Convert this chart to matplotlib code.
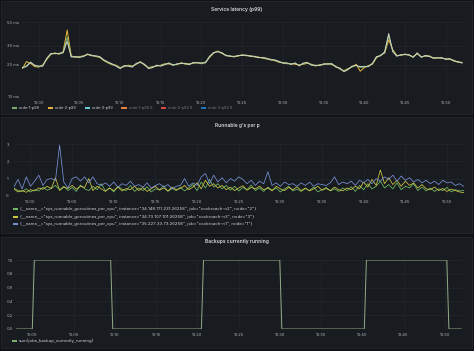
import numpy as np
import matplotlib
matplotlib.use("Agg")
import matplotlib.pyplot as plt
from matplotlib.lines import Line2D
from matplotlib.patches import Rectangle

W, H = 474, 351

# x axis: minutes after 13:00, samples every 30 s from 12:58
sample_minutes = np.arange(-2.0, 52.01, 0.5)
x_ticks = [0, 5, 10, 15, 20, 25, 30, 35, 40, 45, 50]
x_tick_labels = ["13:00", "13:05", "13:10", "13:15", "13:20", "13:25",
                 "13:30", "13:35", "13:40", "13:45", "13:50"]

# --- Service latency (p99), ms
lat_node1 = [18.6, 19.6, 21.2, 19.6, 19.2, 19.6, 22.8, 25.3, 25.5, 25.3,
             26.0, 36.0, 23.8, 23.6, 23.6, 24.0, 25.0, 24.4, 24.0, 23.6,
             22.0, 21.0, 20.2, 19.6, 18.6, 19.4, 19.6, 19.2, 20.4, 21.2,
             20.0, 18.6, 19.0, 19.6, 19.6, 20.2, 20.6, 19.9, 20.2, 20.7,
             20.4, 20.2, 20.8, 20.9, 20.6, 21.0, 23.8, 25.8, 26.6, 25.7,
             24.4, 24.0, 23.8, 24.2, 24.6, 24.4, 24.1, 23.8, 23.4, 23.2,
             22.8, 22.3, 22.0, 21.3, 20.8, 20.6, 20.3, 20.6, 19.7, 20.5,
             20.8, 20.0, 19.6, 19.8, 20.2, 20.4, 20.3, 19.2, 18.4, 17.4,
             18.2, 19.2, 19.8, 18.9, 19.0, 19.4, 20.4, 23.6, 24.4, 26.0,
             37.0, 27.0, 24.2, 24.6, 25.0, 24.6, 23.6, 25.5, 23.6, 24.2,
             24.0, 23.0, 23.2, 23.1, 22.6, 22.6, 21.8, 21.2, 20.9]
lat_node2 = [18.4, 21.4, 20.6, 19.2, 19.0, 19.9, 22.4, 25.0, 25.8, 25.0,
             26.4, 42.0, 24.2, 23.4, 23.8, 24.2, 24.8, 24.6, 23.8, 23.4,
             21.8, 20.8, 20.0, 19.8, 18.8, 19.2, 19.8, 19.4, 20.2, 21.4,
             19.8, 18.8, 19.2, 19.4, 19.8, 20.4, 20.3, 20.1, 20.0, 20.9,
             20.2, 20.4, 20.6, 21.1, 20.4, 21.2, 23.4, 25.6, 26.8, 25.4,
             24.6, 23.8, 24.0, 24.0, 24.8, 24.2, 24.3, 23.6, 23.6, 23.0,
             22.6, 22.5, 21.8, 21.1, 21.0, 20.4, 20.5, 20.2, 19.9, 20.2,
             20.6, 20.2, 19.4, 20.0, 20.0, 20.6, 20.0, 19.4, 18.2, 17.6,
             18.4, 19.0, 20.2, 17.4, 18.8, 19.6, 20.2, 23.2, 24.6, 25.6,
             34.0, 27.6, 24.4, 24.4, 25.2, 24.4, 23.8, 25.2, 23.8, 24.0,
             24.2, 22.8, 23.4, 22.9, 22.8, 22.4, 22.0, 21.0, 21.1]
lat_node3 = [18.8, 19.2, 21.0, 19.8, 19.4, 19.4, 23.0, 25.4, 25.3, 25.5,
             25.8, 33.0, 23.6, 23.8, 23.4, 23.8, 25.2, 24.2, 24.2, 23.8,
             22.2, 21.2, 20.4, 19.4, 18.4, 19.6, 19.4, 19.0, 20.6, 21.0,
             20.2, 18.4, 18.8, 19.8, 19.4, 20.0, 20.8, 19.7, 20.4, 20.5,
             20.6, 20.0, 21.0, 20.7, 20.8, 20.8, 24.0, 26.0, 26.4, 25.9,
             24.2, 24.2, 23.6, 24.4, 24.4, 24.6, 23.9, 24.0, 23.2, 23.4,
             23.0, 22.1, 22.2, 21.5, 20.6, 20.8, 20.1, 20.8, 19.5, 20.7,
             21.0, 19.8, 19.8, 19.6, 20.4, 20.2, 20.5, 19.0, 18.6, 17.2,
             18.0, 19.4, 19.6, 19.2, 19.2, 19.2, 20.6, 23.8, 24.2, 26.4,
             39.0, 26.4, 24.0, 24.8, 24.8, 24.8, 23.4, 25.8, 23.4, 24.4,
             23.8, 23.2, 23.0, 23.3, 22.4, 22.8, 21.6, 21.4, 20.7]
lat_labels = ["node-1-p99", "node-2-p99", "node-3-p99",
              "node-1-p99.9", "node-2-p99.9", "node-3-p99.9"]
lat_yticks = [10, 20, 30, 50]
lat_ytick_labels = ["10 ms", "20 ms", "30 ms", "50 ms"]

# --- Runnable g's per p
run_n2 = [0.45, 0.30, 0.25, 0.40, 0.22, 0.35, 0.28, 0.50, 0.32, 0.42,
          0.60, 0.35, 0.55, 0.30, 0.48, 0.25, 0.62, 0.40, 0.30, 0.55,
          0.35, 0.70, 0.28, 0.45, 0.22, 0.55, 0.38, 0.30, 0.60, 0.25,
          0.45, 0.30, 0.52, 0.22, 0.40, 0.35, 0.58, 0.25, 0.42, 0.30,
          0.50, 0.28, 0.45, 0.65, 0.30, 0.80, 0.45, 0.95, 0.50, 0.70,
          0.40, 0.60, 0.32, 0.55, 0.28, 0.48, 0.35, 0.62, 0.30, 0.45,
          0.25, 0.50, 0.32, 0.45, 0.22, 0.40, 0.55, 0.28, 0.38, 0.25,
          0.42, 0.30, 0.50, 0.22, 0.35, 0.48, 0.28, 0.40, 0.25, 0.45,
          0.30, 0.52, 0.25, 0.60, 0.35, 0.70, 0.40, 0.55, 0.85, 0.45,
          0.65, 0.40, 0.75, 0.35, 0.55, 0.45, 0.70, 0.30, 0.50, 0.28,
          0.45, 0.25, 0.40, 0.30, 0.48, 0.22, 0.35, 0.28, 0.30]
run_n3 = [0.40, 0.22, 0.30, 0.20, 0.35, 0.28, 0.45, 0.38, 0.55, 0.42,
          1.05, 0.30, 0.50, 0.42, 0.60, 0.38, 0.55, 0.48, 1.00, 0.30,
          0.55, 0.40, 0.25, 0.45, 0.30, 0.50, 0.28, 0.42, 0.35, 0.55,
          0.30, 0.48, 0.25, 0.40, 0.55, 0.32, 0.45, 0.28, 0.50, 0.35,
          0.42, 0.60, 0.35, 0.50, 0.75, 0.40, 0.90, 0.55, 0.70, 0.45,
          0.60, 0.35, 0.50, 0.30, 0.45, 0.58, 0.32, 0.48, 0.40, 0.55,
          0.35, 0.45, 0.28, 0.55, 0.40, 0.30, 0.48, 0.35, 0.52, 0.30,
          0.45, 0.28, 0.40, 0.55, 0.32, 0.42, 0.30, 0.50, 0.35, 0.28,
          0.45, 0.35, 0.55, 0.40, 0.80, 0.50, 0.95, 0.60, 1.50, 0.70,
          1.05, 0.65, 0.90, 0.55, 0.85, 0.60, 0.75, 0.45, 0.65, 0.40,
          0.35, 0.50, 0.30, 0.42, 0.25, 0.38, 0.30, 0.22, 0.18]
run_n1 = [0.50, 0.95, 0.40, 1.10, 0.55, 0.85, 1.20, 0.60, 0.95, 1.00,
          0.90, 2.95, 0.80, 0.45, 1.00, 1.10, 0.85, 1.10, 0.75, 1.10,
          0.70, 0.60, 0.75, 0.55, 0.80, 0.50, 0.70, 0.60, 0.85, 0.55,
          0.65, 0.50, 0.75, 0.45, 0.60, 0.70, 0.50, 0.65, 0.40, 0.55,
          0.60, 1.00, 0.55, 0.75, 0.60, 1.10, 1.30, 0.70, 1.20, 0.80,
          1.05, 0.75, 1.00, 0.85, 1.10, 0.95, 0.70, 0.90, 0.60, 0.85,
          0.70, 1.40, 0.60, 0.75, 0.55, 0.80, 0.65, 0.70, 0.55, 0.75,
          0.60, 0.80, 0.55, 0.70, 0.65, 0.60, 0.75, 1.10, 0.65, 0.80,
          0.70, 0.85, 0.60, 0.90, 0.75, 0.95, 0.70, 1.00, 0.85, 1.10,
          0.95, 1.20, 0.85, 1.15, 0.90, 1.05, 0.80, 0.95, 0.75, 0.90,
          0.70, 0.85, 0.65, 0.90, 0.75, 0.80, 0.60, 0.70, 0.55]
run_labels = [
    '{__name__="sys_runnable_goroutines_per_cpu", instance="34.148.171.231:26258", job="cockroach-n2", node="2"}',
    '{__name__="sys_runnable_goroutines_per_cpu", instance="34.73.107.101:26258", job="cockroach-n3", node="3"}',
    '{__name__="sys_runnable_goroutines_per_cpu", instance="35.227.33.73:26258", job="cockroach-n1", node="1"}',
]
run_yticks = [0, 1, 2, 3]

# --- Backups currently running
backup_minutes = [-2.0, 0.0, 0.25, 9.5, 9.75, 20.5, 20.75, 30.0, 30.25,
                  40.25, 40.5, 50.25, 50.5, 52.0]
backup_values = [0, 0, 1, 1, 0, 0, 1, 1, 0, 0, 1, 1, 0, 0]
backup_label = "sum(jobs_backup_currently_running)"
backup_yticks = [0.0, 0.2, 0.4, 0.6, 0.8, 1.0]

GREEN, YELLOW, CYAN = "#7EB26D", "#EAB839", "#6ED0E0"
ORANGE, RED, BLUE = "#EF843C", "#E24D42", "#1F78C1"
RUN_COLORS = ["#73BF69", "#D2CB44", "#7993D8"]
TEXT = "#d8d9e0"
TICK = "#b4b6bc"
GRID = "#23262b"

plt.rcParams["font.family"] = ["Inter", "DejaVu Sans"]

fig = plt.figure(figsize=(W / 100, H / 100), dpi=100, facecolor="#111217")


def fx(x):
    return x / W


def fy(y):
    return 1 - y / H


# panel backgrounds (behind the axes)
for top, bottom in [(1, 114), (117, 233), (237, 348)]:
    fig.add_artist(Rectangle((fx(1), fy(bottom)), fx(471), (bottom - top) / H,
                             transform=fig.transFigure, facecolor="#181b1f",
                             edgecolor="#24272d", linewidth=0.6, zorder=-5))


def panel_axes(left, top, right, bottom):
    ax = fig.add_axes([fx(left), fy(bottom), (right - left) / W, (bottom - top) / H])
    ax.set_facecolor("none")
    for s in ax.spines.values():
        s.set_visible(False)
    ax.set_xlim(-2, 52.15)
    ax.set_xticks(x_ticks)
    ax.set_xticklabels(x_tick_labels)
    ax.tick_params(length=0, labelsize=2.9, colors=TICK)
    ax.tick_params(axis="x", pad=2.8)
    ax.grid(True, color=GRID, linewidth=0.5)
    ax.set_axisbelow(True)
    return ax


def title(y, s):
    fig.text(fx(237), fy(y), s, ha="center", va="center", fontsize=3.5,
             color=TEXT, fontweight="semibold")


def legend_row(x, y, labels, colors, text_colors, size=2.7, gap=8):
    r = fig.canvas.get_renderer()
    for lab, c, tc in zip(labels, colors, text_colors):
        fig.add_artist(Line2D([fx(x), fx(x + 5)], [fy(y), fy(y)],
                              transform=fig.transFigure, color=c, linewidth=1.4,
                              solid_capstyle="butt"))
        t = fig.text(fx(x + 7), fy(y), lab, ha="left", va="center",
                     fontsize=size, color=tc)
        x = t.get_window_extent(renderer=r).x1 + gap


# Panel 1: Service latency (p99)
ax1 = panel_axes(22.4, 22, 463.2, 97)
ax1.set_yscale("log")
ax1.set_ylim(10, 50)
ax1.plot(sample_minutes, lat_node2, color=YELLOW, linewidth=0.7)
ax1.plot(sample_minutes, lat_node1, color=GREEN, linewidth=0.7)
ax1.plot(sample_minutes, lat_node3, color="#cdd5c6", linewidth=0.7)
ax1.set_yticks(lat_yticks)
ax1.set_yticklabels(lat_ytick_labels)
ax1.yaxis.set_minor_locator(matplotlib.ticker.NullLocator())
ax1.tick_params(axis="y", pad=2.2)
title(10, "Service latency (p99)")
legend_row(12, 108.3, lat_labels, [GREEN, YELLOW, CYAN, ORANGE, RED, BLUE],
           [TEXT] * 3 + ["#7d7f85"] * 3)

# Panel 2: Runnable g's per p
ax2 = panel_axes(13.8, 144.3, 464.9, 195.7)
ax2.set_ylim(0, 3)
for vals, c in zip([run_n2, run_n3, run_n1], RUN_COLORS):
    ax2.plot(sample_minutes, vals, color=c, linewidth=0.55)
ax2.set_yticks(run_yticks)
ax2.set_yticklabels([str(v) for v in run_yticks])
ax2.tick_params(axis="y", pad=3.6)
title(125, "Runnable g's per p")
for i, (lab, c) in enumerate(zip(run_labels, RUN_COLORS)):
    legend_row(12.7, 209 + i * 7.7, [lab], [c], [TEXT], size=3.05)

# Panel 3: Backups currently running
ax3 = panel_axes(15.8, 260, 462.5, 329)
ax3.set_ylim(0, 1)
ax3.plot(backup_minutes, backup_values, color="#94ac86", linewidth=0.7)
ax3.set_yticks(backup_yticks)
ax3.set_yticklabels(["%.1f" % v for v in backup_yticks])
ax3.tick_params(axis="y", pad=2.0)
title(241, "Backups currently running")
legend_row(12, 341, [backup_label], [GREEN], [TEXT], size=3.0)

fig.savefig("out.png", dpi=100, facecolor=fig.get_facecolor())
